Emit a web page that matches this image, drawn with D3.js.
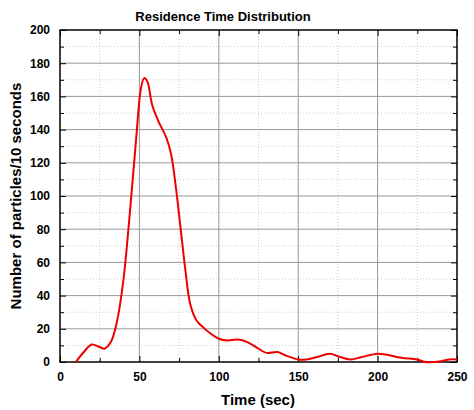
<!DOCTYPE html><html><head><meta charset="utf-8"><script src="https://cdn.jsdelivr.net/npm/d3@7"></script>
<style>body{margin:0;background:#fff}text{font-family:"Liberation Sans",Arial,sans-serif;font-weight:bold}</style></head><body><svg id="c" width="474" height="410"></svg><script>
const times=[10,15,20,25,28,32,36,40,44,48,51,53,55,58,62,67,70,73,76,79,82,86,90,95,100,105,112,118,125,130,137,142,150,155,162,170,175,183,190,200,205,215,225,230,240,245,250];
const counts=[0,6,10.5,9,8,12,25,50,90,135,165,171,169,155,145,135,125,105,80,55,35,25,21,17,14,13,13.5,12,8,5.5,6,4,1.5,1.5,3,5,3.5,1.5,3,5,4.5,2.5,1.5,0,0.5,1.5,1.5];
const xTicks=[0,50,100,150,200,250], yTicks=d3.range(0,201,20);
const svg=d3.select("#c"), L=60,R=457,T=30,B=362;
const x=d3.scaleLinear().domain([0,250]).range([L,R]), y=d3.scaleLinear().domain([0,200]).range([B,T]);
const g=svg.append("g");
d3.range(25,250,50).forEach(v=>g.append("line").attr("x1",x(v)).attr("x2",x(v)).attr("y1",T).attr("y2",B).attr("stroke","#ccc").attr("stroke-dasharray","1,2"));
d3.range(10,200,20).forEach(v=>g.append("line").attr("y1",y(v)).attr("y2",y(v)).attr("x1",L).attr("x2",R).attr("stroke","#ccc").attr("stroke-dasharray","1,2"));
xTicks.slice(1,-1).forEach(v=>g.append("line").attr("x1",x(v)).attr("x2",x(v)).attr("y1",T).attr("y2",B).attr("stroke","#999"));
yTicks.slice(1,-1).forEach(v=>g.append("line").attr("y1",y(v)).attr("y2",y(v)).attr("x1",L).attr("x2",R).attr("stroke","#999"));
const xa=svg.append("g").attr("transform",`translate(0,${B})`).call(d3.axisBottom(x).tickValues(xTicks).tickSizeInner(-6).tickSizeOuter(0).tickPadding(10));
svg.append("g").attr("transform",`translate(0,${B})`).call(d3.axisBottom(x).tickValues(d3.range(25,250,50)).tickSizeInner(-4).tickSizeOuter(0).tickFormat(""));
const ya=svg.append("g").attr("transform",`translate(${L},0)`).call(d3.axisLeft(y).tickValues(yTicks).tickSizeInner(-6).tickSizeOuter(0).tickPadding(10));
svg.append("g").attr("transform",`translate(${L},0)`).call(d3.axisLeft(y).tickValues(d3.range(10,200,20)).tickSizeInner(-4).tickSizeOuter(0).tickFormat(""));
svg.append("g").attr("transform",`translate(${R},0)`).call(d3.axisRight(y).tickValues(yTicks).tickSizeInner(-6).tickSizeOuter(0).tickFormat(""));
svg.append("g").attr("transform",`translate(${R},0)`).call(d3.axisRight(y).tickValues(d3.range(10,200,20)).tickSizeInner(-4).tickSizeOuter(0).tickFormat(""));
svg.append("g").attr("transform",`translate(0,${T})`).call(d3.axisTop(x).tickValues(xTicks).tickSizeInner(-6).tickSizeOuter(0).tickFormat(""));
svg.append("g").attr("transform",`translate(0,${T})`).call(d3.axisTop(x).tickValues(d3.range(25,250,50)).tickSizeInner(-4).tickSizeOuter(0).tickFormat(""));
svg.selectAll(".domain").remove();
svg.selectAll(".tick text").attr("font-size",12).attr("fill","#000");
svg.append("rect").attr("x",L).attr("y",T).attr("width",R-L).attr("height",B-T).attr("fill","none").attr("stroke","#000").attr("stroke-width",1.5);
svg.append("path").datum(times.map((t,i)=>[t,counts[i]])).attr("fill","none").attr("stroke","#e00").attr("stroke-width",2)
 .attr("d",d3.line().x(d=>x(d[0])).y(d=>y(d[1])).curve(d3.curveCatmullRom));
svg.append("text").attr("x",223).attr("y",21).attr("text-anchor","middle").attr("font-size",13).text("Residence Time Distribution");
svg.append("text").attr("x",258).attr("y",405).attr("text-anchor","middle").attr("font-size",15).text("Time (sec)");
svg.append("text").attr("transform",`translate(21,196) rotate(-90)`).attr("text-anchor","middle").attr("font-size",15).text("Number of particles/10 seconds");
</script></body></html>
